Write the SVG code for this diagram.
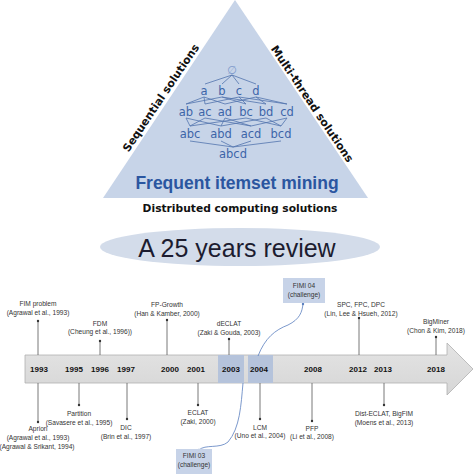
<svg xmlns="http://www.w3.org/2000/svg" width="474" height="475" viewBox="0 0 474 475">
<defs>
<style>
.side{font-family:"DejaVu Sans",sans-serif;font-weight:bold;font-size:11px;fill:#111;text-anchor:middle}
.lat{font-family:"DejaVu Sans",sans-serif;font-size:11.5px;fill:#3d65a8;text-anchor:middle}
.ll{stroke:#5274ad;stroke-width:0.8;fill:none}
.yr{font-family:"Liberation Sans",Arial,sans-serif;font-weight:bold;font-size:8px;fill:#111;text-anchor:middle}
.ev{font-family:"Liberation Sans",Arial,sans-serif;font-size:6.6px;fill:#333;text-anchor:middle}
.tick{stroke:#555;stroke-width:0.8}
.dot{fill:#333}
.fimi{fill:#c7d3e8}
.curve{stroke:#5b7fbf;stroke-width:0.8;fill:none}
</style>
<linearGradient id="bar" x1="0" y1="0" x2="0" y2="1">
<stop offset="0" stop-color="#e4e4e4"/>
<stop offset="1" stop-color="#d6d6d6"/>
</linearGradient>
</defs>
<rect width="474" height="475" fill="#fff"/>

<g id="triangle">
<polygon points="235,0 103,198 368,198" fill="#c7d4e8"/>
<text class="side" transform="translate(164,100) rotate(-56)">Sequential solutions</text>
<text class="side" transform="translate(309,106) rotate(56)">Multi-thread solutions</text>
<text x="237" y="189" font-family="Liberation Sans,Arial,sans-serif" font-weight="bold" font-size="17.5" fill="#2b56a0" text-anchor="middle">Frequent itemset mining</text>
<text class="side" x="240" y="212" style="font-size:10.7px">Distributed computing solutions</text>
</g>

<g id="lattice">
<g class="ll">
<path d="M232,75 L205,84 M232,75 L222,84 M232,75 L239,84 M232,75 L256,84"/>
<path d="M204,97 L186,104 M204,97 L205,104 M204,97 L225,104"/>
<path d="M222,97 L186,104 M222,97 L246,104 M222,97 L266,104"/>
<path d="M239,97 L205,104 M239,97 L246,104 M239,97 L287,104"/>
<path d="M256,97 L225,104 M256,97 L266,104 M256,97 L287,104"/>
<path d="M186,118 L190,126 M186,118 L221,126"/>
<path d="M205,118 L190,126 M205,118 L251,126"/>
<path d="M225,118 L221,126 M225,118 L251,126"/>
<path d="M246,118 L190,126 M246,118 L281,126"/>
<path d="M266,118 L221,126 M266,118 L281,126"/>
<path d="M287,118 L251,126 M287,118 L281,126"/>
<path d="M190,141 L233,147 M221,141 L233,147 M251,141 L233,147 M281,141 L233,147"/>
</g>
<text x="232" y="74" class="lat" style="fill:#7f9bcc">∅</text>
<text class="lat" x="204" y="95">a</text>
<text class="lat" x="222" y="95">b</text>
<text class="lat" x="239" y="95">c</text>
<text class="lat" x="256" y="95">d</text>
<text class="lat" x="186" y="116">ab</text>
<text class="lat" x="205" y="116">ac</text>
<text class="lat" x="225" y="116">ad</text>
<text class="lat" x="246" y="116">bc</text>
<text class="lat" x="266" y="116">bd</text>
<text class="lat" x="287" y="116">cd</text>
<text class="lat" x="190" y="138">abc</text>
<text class="lat" x="221" y="138">abd</text>
<text class="lat" x="251" y="138">acd</text>
<text class="lat" x="281" y="138">bcd</text>
<text class="lat" x="233" y="158">abcd</text>
</g>

<g id="review">
<ellipse cx="240" cy="247" rx="140" ry="19" fill="#d3dcea"/>
<text x="237" y="257" font-family="Liberation Sans,Arial,sans-serif" font-size="25" fill="#1c1c30" text-anchor="middle">A 25 years review</text>
</g>

<g id="timeline">
<polygon points="25,355 447,355 447,343 473,369 447,395 447,383 25,383" fill="url(#bar)" stroke="#b0b0b0" stroke-width="0.8"/>
<rect x="218" y="355" width="26" height="28" fill="#b5c3db"/>
<rect x="248" y="355" width="25" height="28" fill="#b5c3db"/>
<text class="yr" x="39" y="372">1993</text>
<text class="yr" x="74" y="372">1995</text>
<text class="yr" x="100" y="372">1996</text>
<text class="yr" x="126" y="372">1997</text>
<text class="yr" x="170" y="372">2000</text>
<text class="yr" x="196" y="372">2001</text>
<text class="yr" x="231" y="372">2003</text>
<text class="yr" x="259" y="372">2004</text>
<text class="yr" x="313" y="372">2008</text>
<text class="yr" x="358" y="372">2012</text>
<text class="yr" x="383" y="372">2013</text>
<text class="yr" x="436" y="372">2018</text>
</g>

<g id="connectors">
<line class="tick" x1="38" y1="321" x2="38" y2="355"/><circle class="dot" cx="38" cy="321" r="1.2"/>
<line class="tick" x1="100" y1="341" x2="100" y2="355"/><circle class="dot" cx="100" cy="341" r="1.2"/>
<line class="tick" x1="167" y1="320" x2="167" y2="355"/><circle class="dot" cx="167" cy="320" r="1.2"/>
<line class="tick" x1="229" y1="339" x2="229" y2="355"/><circle class="dot" cx="229" cy="339" r="1.2"/>
<line class="tick" x1="359" y1="318" x2="359" y2="355"/><circle class="dot" cx="359" cy="318" r="1.2"/>
<line class="tick" x1="436" y1="337" x2="436" y2="355"/><circle class="dot" cx="436" cy="337" r="1.2"/>
<line class="tick" x1="38" y1="383" x2="38" y2="422"/><circle class="dot" cx="38" cy="422" r="1.2"/>
<line class="tick" x1="79" y1="383" x2="79" y2="405"/><circle class="dot" cx="79" cy="405" r="1.2"/>
<line class="tick" x1="127" y1="383" x2="127" y2="419"/><circle class="dot" cx="127" cy="419" r="1.2"/>
<line class="tick" x1="198" y1="383" x2="198" y2="405"/><circle class="dot" cx="198" cy="405" r="1.2"/>
<line class="tick" x1="260" y1="383" x2="260" y2="419"/><circle class="dot" cx="260" cy="419" r="1.2"/>
<line class="tick" x1="312" y1="383" x2="312" y2="421"/><circle class="dot" cx="312" cy="421" r="1.2"/>
<line class="tick" x1="384" y1="383" x2="384" y2="405"/><circle class="dot" cx="384" cy="405" r="1.2"/>
<path class="curve" d="M258,356 C265,338 275,330 288,325 C300,319 302,312 303,304"/><circle cx="303" cy="304" r="1.2" fill="#5b7fbf"/>
<path class="curve" d="M243,383 C241,405 240,428 228,442 C220,449 205,444 199,450"/><circle cx="199" cy="450" r="1.2" fill="#5b7fbf"/>
</g>

<g id="fim-problem"><text class="ev" x="38" y="306">FIM problem</text><text class="ev" x="38" y="315">(Agrawal et al., 1993)</text></g>
<g id="fdm"><text class="ev" x="100" y="326">FDM</text><text class="ev" x="100" y="334">(Cheung et al., 1996))</text></g>
<g id="fp-growth"><text class="ev" x="167" y="307">FP-Growth</text><text class="ev" x="167" y="316">(Han &amp; Kamber, 2000)</text></g>
<g id="declat"><text class="ev" x="229" y="326">dECLAT</text><text class="ev" x="229" y="335">(Zaki &amp; Gouda, 2003)</text></g>
<g id="fimi04"><rect class="fimi" x="283" y="278" width="42" height="25"/><text class="ev" x="304" y="288">FIMI 04</text><text class="ev" x="304" y="297">(challenge)</text></g>
<g id="spc"><text class="ev" x="361" y="307">SPC, FPC, DPC</text><text class="ev" x="361" y="316">(Lin, Lee &amp; Hsueh, 2012)</text></g>
<g id="bigminer"><text class="ev" x="436" y="324">BigMiner</text><text class="ev" x="436" y="333">(Chon &amp; Kim, 2018)</text></g>

<g id="apriori"><text class="ev" x="38" y="431">Apriori</text><text class="ev" x="38" y="440">(Agrawal et al., 1993)</text><text class="ev" x="37" y="448.5">(Agrawal &amp; Srikant, 1994)</text></g>
<g id="partition"><text class="ev" x="79" y="415.5">Partition</text><text class="ev" x="79" y="424.5">(Savasere et al., 1995)</text></g>
<g id="dic"><text class="ev" x="126" y="430">DIC</text><text class="ev" x="126" y="439">(Brin et al., 1997)</text></g>
<g id="eclat"><text class="ev" x="198" y="415">ECLAT</text><text class="ev" x="198" y="424">(Zaki, 2000)</text></g>
<g id="fimi03"><rect class="fimi" x="176" y="449" width="36" height="25"/><text class="ev" x="194" y="458">FIMI 03</text><text class="ev" x="194" y="467">(challenge)</text></g>
<g id="lcm"><text class="ev" x="260" y="430">LCM</text><text class="ev" x="260" y="438">(Uno et al., 2004)</text></g>
<g id="pfp"><text class="ev" x="312" y="431">PFP</text><text class="ev" x="312" y="439">(Li et al., 2008)</text></g>
<g id="dist-eclat"><text class="ev" x="384" y="415.5">Dist-ECLAT, BigFIM</text><text class="ev" x="384" y="424.5">(Moens et al., 2013)</text></g>
</svg>
